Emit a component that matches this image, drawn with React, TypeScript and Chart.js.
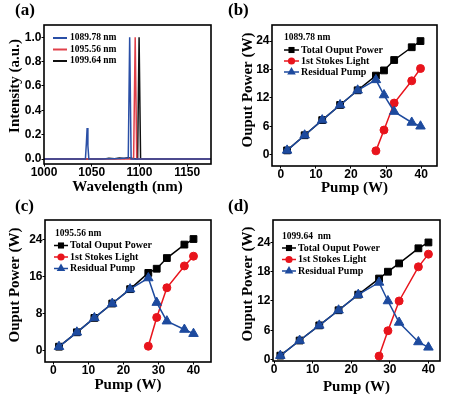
import React, { useEffect, useRef } from 'react';
import { Chart, registerables } from 'chart.js';
Chart.register(...registerables);

const SERIF = '"Liberation Serif", "Times New Roman", serif';
const SANS = '"Liberation Sans", Arial, sans-serif';

// ---------- Panel (a): spectra ----------
const wavelengthTicks = [1000, 1050, 1100, 1150];
const intensityTicks = [0, 0.2, 0.4, 0.6, 0.8, 1.0];
const spectrumLabels = ['1089.78 nm', '1095.56 nm', '1099.64 nm'];
const blueWl = [1000, 1043.4, 1044.4, 1045.2, 1046.0, 1047.0, 1060, 1070, 1080, 1088.3, 1089.78, 1091.3, 1100, 1175];
const blueInt = [0, 0, 0.13, 0.255, 0.11, 0, 0, 0.004, 0.006, 0.01, 1.0, 0, 0, 0];
const redWl = [1000, 1093.9, 1095.56, 1097.2, 1175];
const redInt = [0, 0, 1.0, 0, 0];
const blackWl = [1000, 1062, 1068, 1074, 1079, 1084, 1088, 1098.1, 1099.64, 1101.2, 1175];
const blackInt = [0, 0, 0.008, 0.004, 0.01, 0.006, 0.012, 0, 1.0, 0, 0];

// ---------- Panels (b)-(d): power curves ----------
const seriesLabels = ['Total Ouput Power', '1st Stokes Light', 'Residual Pump'];
const pumpTicks = [0, 10, 20, 30, 40];

const pumpB = [1.8, 6.8, 11.8, 16.9, 21.9, 27.1, 29.4, 32.3, 37.3, 39.8];
const totalB = [0.9, 4.1, 7.3, 10.5, 13.6, 16.7, 17.8, 20.0, 22.7, 24.0];
const residualB = [0.9, 4.1, 7.3, 10.5, 13.6, 15.8, 12.6, 9.1, 6.8, 6.0];
const stokesPumpB = [27.1, 29.4, 32.3, 37.3, 39.8];
const stokesB = [0.8, 5.2, 10.9, 15.6, 18.2];
const powerTicksB = [0, 6, 12, 18, 24];

const pumpC = [1.6, 6.7, 11.7, 16.8, 21.9, 27.1, 29.5, 32.4, 37.4, 40.0];
const totalC = [0.9, 4.0, 7.1, 10.2, 13.3, 16.8, 17.7, 20.0, 22.9, 24.1];
const residualC = [0.9, 4.0, 7.1, 10.2, 13.3, 15.7, 10.4, 6.4, 4.6, 3.7];
const stokesPumpC = [27.1, 29.5, 32.4, 37.4, 40.0];
const stokesC = [1.0, 7.2, 13.6, 18.3, 20.4];
const powerTicksC = [0, 8, 16, 24];

const pumpD = [1.6, 6.6, 11.7, 16.7, 21.8, 27.2, 29.5, 32.4, 37.4, 40.0];
const totalD = [0.8, 3.9, 7.0, 10.1, 13.3, 16.6, 18.0, 19.7, 22.8, 24.0];
const residualD = [0.8, 3.9, 7.0, 10.1, 13.3, 15.8, 12.0, 7.6, 3.6, 2.5];
const stokesPumpD = [27.2, 29.5, 32.4, 37.4, 40.0];
const stokesD = [0.7, 5.9, 12.0, 19.0, 21.6];
const powerTicksD = [0, 6, 12, 18, 24];

const BLACK = '#000000';
const RED = '#e8141c';
const BLUE = '#1d4a9e';
const SPEC_BLUE = '#2a4fa6';
const SPEC_RED = '#e0404a';

const zip = (xs: number[], ys: number[]) => xs.map((x, i) => ({ x, y: ys[i] }));

function powerDatasets(pump: number[], total: number[], sp: number[], stokes: number[], residual: number[]) {
  return [
    { label: seriesLabels[0], data: zip(pump, total), borderColor: BLACK, backgroundColor: BLACK, pointStyle: 'rect', pointRadius: 4.8, order: 3 },
    { label: seriesLabels[1], data: zip(sp, stokes), borderColor: RED, backgroundColor: RED, pointStyle: 'circle', pointRadius: 4, order: 2 },
    { label: seriesLabels[2], data: zip(pump, residual), borderColor: BLUE, backgroundColor: BLUE, pointStyle: 'triangle', pointRadius: 5.5, order: 1 },
  ].map((d) => ({ ...d, borderWidth: 1.5, pointBorderWidth: 1, pointBackgroundColor: d.backgroundColor, pointBorderColor: d.borderColor, tension: 0 }));
}

type PanelCfg = {
  key: string;
  box: { x: number; y: number; w: number; h: number };
  area: { l: number; t: number; r: number; b: number };
  xRange: [number, number];
  yRange: [number, number];
  xTicks: number[];
  yTicks: number[];
  yFmt: (v: number) => string;
  label: string; labelX: number; labelY: number;
  yTitle: string; yTitleX: number; yTitleY: number;
  xTitle: string; xTitleY: number;
  datasets: any[];
  legend: { header?: string; hx?: number; hy?: number; rows: number[]; x0: number; x1: number; tx: number; markers: boolean; size: number };
};

const panels: PanelCfg[] = [
  {
    key: 'a', box: { x: 0, y: 0, w: 225, h: 197 },
    area: { l: 44, t: 25, r: 211, b: 164 },
    xRange: [1000, 1175], yRange: [-0.04, 1.1],
    xTicks: wavelengthTicks, yTicks: intensityTicks, yFmt: (v) => v.toFixed(1),
    label: '(a)', labelX: 15, labelY: 11,
    yTitle: 'Intensity (a.u.)', yTitleX: 15, yTitleY: 86,
    xTitle: 'Wavelength (nm)', xTitleY: 187,
    datasets: [
      { label: spectrumLabels[0], data: zip(blueWl, blueInt), borderColor: SPEC_BLUE, backgroundColor: SPEC_BLUE },
      { label: spectrumLabels[1], data: zip(redWl, redInt), borderColor: SPEC_RED, backgroundColor: SPEC_RED },
      { label: spectrumLabels[2], data: zip(blackWl, blackInt), borderColor: '#111111', backgroundColor: '#111111' },
    ].map((d) => ({ ...d, borderWidth: 1.5, pointRadius: 0, tension: 0 })),
    legend: { rows: [38, 49.5, 61], x0: 53, x1: 67, tx: 70, markers: false, size: 9.5 },
  },
  {
    key: 'b', box: { x: 225, y: 0, w: 249, h: 197 },
    area: { l: 272, t: 25, r: 437, b: 166 },
    xRange: [-2.5, 44.5], yRange: [-2.4, 27.4],
    xTicks: pumpTicks, yTicks: powerTicksB, yFmt: (v) => String(v),
    label: '(b)', labelX: 228, labelY: 11,
    yTitle: 'Ouput Power (W)', yTitleX: 248.5, yTitleY: 90,
    xTitle: 'Pump (W)', xTitleY: 188,
    datasets: powerDatasets(pumpB, totalB, stokesPumpB, stokesB, residualB),
    legend: { header: '1089.78 nm', hx: 284, hy: 38, rows: [50, 61, 72], x0: 284, x1: 299, tx: 301, markers: true, size: 10 },
  },
  {
    key: 'c', box: { x: 0, y: 197, w: 225, h: 198 },
    area: { l: 45, t: 220, r: 211, b: 362 },
    xRange: [-2.4, 45], yRange: [-2.4, 28.2],
    xTicks: pumpTicks, yTicks: powerTicksC, yFmt: (v) => String(v),
    label: '(c)', labelX: 15, labelY: 207,
    yTitle: 'Ouput Power (W)', yTitleX: 15.5, yTitleY: 285,
    xTitle: 'Pump (W)', xTitleY: 385,
    datasets: powerDatasets(pumpC, totalC, stokesPumpC, stokesC, residualC),
    legend: { header: '1095.56 nm', hx: 55, hy: 234, rows: [245.5, 257, 268.5], x0: 54, x1: 68, tx: 70, markers: true, size: 10 },
  },
  {
    key: 'd', box: { x: 225, y: 197, w: 249, h: 198 },
    area: { l: 273, t: 220, r: 440, b: 361 },
    xRange: [-0.3, 43], yRange: [-0.3, 28.6],
    xTicks: pumpTicks, yTicks: powerTicksD, yFmt: (v) => String(v),
    label: '(d)', labelX: 228, labelY: 207,
    yTitle: 'Ouput Power (W)', yTitleX: 248.5, yTitleY: 284,
    xTitle: 'Pump (W)', xTitleY: 387,
    datasets: powerDatasets(pumpD, totalD, stokesPumpD, stokesD, residualD),
    legend: { header: '1099.64  nm', hx: 282, hy: 236.5, rows: [248, 259.5, 271], x0: 282, x1: 296, tx: 298, markers: true, size: 10 },
  },
];

function drawMarker(ctx: CanvasRenderingContext2D, style: string, x: number, y: number, r: number, color: string) {
  ctx.fillStyle = color;
  ctx.beginPath();
  if (style === 'rect') {
    const s = Math.SQRT1_2 * r;
    ctx.rect(x - s, y - s, 2 * s, 2 * s);
  } else if (style === 'triangle') {
    let a = 0;
    for (let i = 0; i < 3; i++) {
      const px = x + Math.sin(a) * r, py = y - Math.cos(a) * r;
      if (i === 0) ctx.moveTo(px, py); else ctx.lineTo(px, py);
      a += (2 * Math.PI) / 3;
    }
    ctx.closePath();
  } else {
    ctx.arc(x, y, r, 0, Math.PI * 2);
  }
  ctx.fill();
}

function buildConfig(p: PanelCfg): any {
  const ox = p.box.x, oy = p.box.y;
  const L = p.area.l - ox, T = p.area.t - oy, R = p.area.r - ox, B = p.area.b - oy;
  const yAxisW = 30;
  const xTitleSize = 15;
  const xAxisH = p.xTitleY - oy + xTitleSize / 2 - B;
  const padBottom = p.box.h - (B + xAxisH);

  const tickFont = { family: SANS, weight: 'bold' as const, size: 12, lineHeight: 1 };
  const gridOpts = { display: true, drawOnChartArea: false, drawTicks: true, tickLength: 2.5, color: '#000', lineWidth: 1 };

  const decor = {
    id: 'decor_' + p.key,
    afterDraw(chart: any) {
      const ctx: CanvasRenderingContext2D = chart.ctx;
      const { left, top, right, bottom } = chart.chartArea;
      ctx.save();
      ctx.strokeStyle = '#000';
      ctx.lineWidth = 1.6;
      ctx.strokeRect(left, top, right - left, bottom - top);

      ctx.fillStyle = '#000';
      ctx.textAlign = 'left';
      ctx.textBaseline = 'middle';
      ctx.font = `bold 17px ${SERIF}`;
      ctx.fillText(p.label, p.labelX - ox, p.labelY - oy);

      ctx.save();
      ctx.translate(p.yTitleX - ox, p.yTitleY - oy);
      ctx.rotate(-Math.PI / 2);
      ctx.textAlign = 'center';
      ctx.font = `bold 15px ${SERIF}`;
      ctx.fillText(p.yTitle, 0, 0);
      ctx.restore();

      const lg = p.legend;
      if (lg.header) {
        ctx.fillStyle = '#000';
        ctx.font = `bold 9.5px ${SERIF}`;
        ctx.fillText(lg.header, (lg.hx as number) - ox, (lg.hy as number) - oy);
      }
      ctx.font = `bold ${lg.size}px ${SERIF}`;
      chart.data.datasets.forEach((ds: any, i: number) => {
        const y = lg.rows[i] - oy;
        ctx.strokeStyle = ds.borderColor;
        ctx.lineWidth = lg.markers ? 1.5 : 2;
        ctx.beginPath();
        ctx.moveTo(lg.x0 - ox, y);
        ctx.lineTo(lg.x1 - ox, y);
        ctx.stroke();
        if (lg.markers) {
          drawMarker(ctx, ds.pointStyle, (lg.x0 + lg.x1) / 2 - ox, y, ds.pointRadius * 0.9, ds.borderColor);
        }
        ctx.fillStyle = '#000';
        ctx.fillText(ds.label, lg.tx - ox, y);
      });
      ctx.restore();
    },
  };

  return {
    type: 'line',
    data: { datasets: p.datasets },
    plugins: [decor],
    options: {
      responsive: false,
      animation: false,
      devicePixelRatio: 1,
      layout: { padding: { left: L - yAxisW, top: T, right: p.box.w - R, bottom: padBottom } },
      plugins: { legend: { display: false }, tooltip: { enabled: false }, title: { display: false } },
      scales: {
        x: {
          type: 'linear',
          min: p.xRange[0], max: p.xRange[1],
          afterBuildTicks: (s: any) => { s.ticks = p.xTicks.map((v) => ({ value: v })); },
          afterFit: (s: any) => { s.height = xAxisH; },
          grid: gridOpts,
          border: { display: false },
          ticks: { color: '#000', font: tickFont, padding: 0.5, maxRotation: 0, autoSkip: false, callback: (v: any) => String(v) },
          title: { display: true, text: p.xTitle, color: '#000', padding: 0, font: { family: SERIF, weight: 'bold', size: xTitleSize, lineHeight: 1 } },
        },
        y: {
          type: 'linear',
          min: p.yRange[0], max: p.yRange[1],
          afterBuildTicks: (s: any) => { s.ticks = p.yTicks.map((v) => ({ value: v })); },
          afterFit: (s: any) => { s.width = yAxisW; },
          grid: gridOpts,
          border: { display: false },
          ticks: { color: '#000', font: tickFont, padding: 0, autoSkip: false, callback: (v: any) => p.yFmt(Number(v)) },
        },
      },
    },
  };
}

function Panel({ cfg }: { cfg: PanelCfg }) {
  const ref = useRef<HTMLCanvasElement | null>(null);
  useEffect(() => {
    const chart = new Chart(ref.current as HTMLCanvasElement, buildConfig(cfg));
    return () => chart.destroy();
  }, [cfg]);
  return (
    <canvas
      ref={ref}
      width={cfg.box.w}
      height={cfg.box.h}
      style={{ position: 'absolute', left: cfg.box.x, top: cfg.box.y, width: cfg.box.w, height: cfg.box.h }}
    />
  );
}

export default function App() {
  return (
    <div style={{ position: 'absolute', left: 0, top: 0, width: 474, height: 395, background: '#fff' }}>
      {panels.map((p) => (
        <Panel key={p.key} cfg={p} />
      ))}
    </div>
  );
}
